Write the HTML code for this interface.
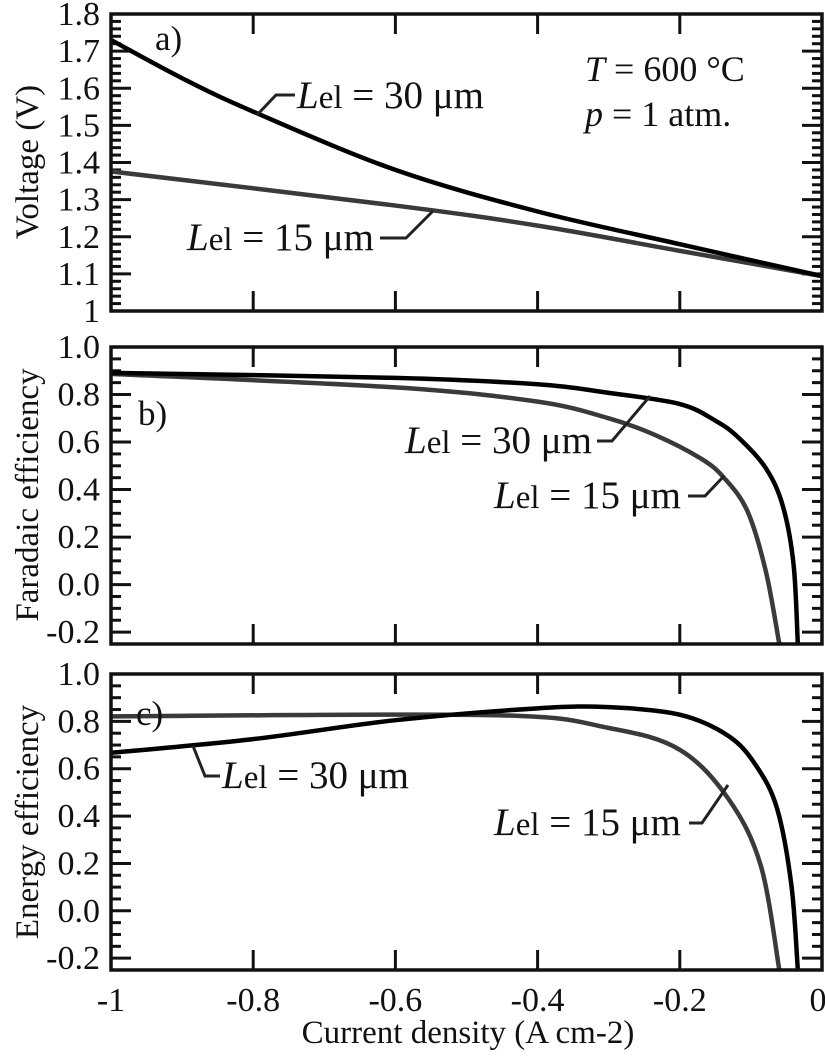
<!DOCTYPE html>
<html><head><meta charset="utf-8"><style>
html,body{margin:0;padding:0;background:#fff}
svg{display:block}
</style></head><body>
<svg id="chart" width="825" height="1056" viewBox="0 0 825 1056" xmlns="http://www.w3.org/2000/svg" font-family="'Liberation Serif', 'DejaVu Serif', serif" fill="#111"></svg>
<script>
// ---- data ----
const voltJ30 = [-1,-0.9,-0.8,-0.6,-0.4,-0.2,0];
const voltV30 = [1.73,1.627,1.537,1.38,1.268,1.18,1.094];
const voltJ15 = [-1,-0.6,-0.4,-0.2,0];
const voltV15 = [1.376,1.284,1.23,1.162,1.094];
const farJ30 = [-1,-0.6,-0.4,-0.3,-0.2,-0.15,-0.118,-0.079,-0.055,-0.04,-0.034];
const farV30 = [0.891,0.87,0.843,0.807,0.76,0.69,0.62,0.49,0.33,0.085,-0.25];
const farJ15 = [-1,-0.6,-0.4,-0.3,-0.235,-0.17,-0.138,-0.105,-0.079,-0.06];
const farV15 = [0.887,0.83,0.77,0.70,0.63,0.53,0.45,0.31,0.056,-0.25];
const enJ30 = [-1,-0.8,-0.6,-0.4,-0.3,-0.2,-0.131,-0.092,-0.063,-0.043,-0.034];
const enV30 = [0.667,0.725,0.805,0.855,0.86,0.828,0.737,0.61,0.43,0.107,-0.25];
const enJ15 = [-1,-0.46,-0.3,-0.2,-0.131,-0.086,-0.06];
const enV15 = [0.821,0.826,0.772,0.68,0.47,0.19,-0.25];
const xTicks = [-1,-0.8,-0.6,-0.4,-0.2,0];
const xTickLabels = ["-1","-0.8","-0.6","-0.4","-0.2","0"];
const voltTicks = [1,1.1,1.2,1.3,1.4,1.5,1.6,1.7,1.8];
const voltTickLabels = ["1","1.1","1.2","1.3","1.4","1.5","1.6","1.7","1.8"];
const effTicks = [-0.2,0,0.2,0.4,0.6,0.8,1.0];
const effTickLabels = ["-0.2","0.0","0.2","0.4","0.6","0.8","1.0"];

const NS="http://www.w3.org/2000/svg";
const svg=document.getElementById('chart');
const X0=111,X1=822;
const xs=j=>X0+(j+1)*(X1-X0);
function el(tag,attrs,parent){const e=document.createElementNS(NS,tag);for(const k in attrs)e.setAttribute(k,attrs[k]);(parent||svg).appendChild(e);return e;}
function smooth(pts){let d=`M${pts[0][0]},${pts[0][1]}`;for(let i=0;i<pts.length-1;i++){const p0=pts[Math.max(0,i-1)],p1=pts[i],p2=pts[i+1],p3=pts[Math.min(pts.length-1,i+2)];const c1=[p1[0]+(p2[0]-p0[0])/6,p1[1]+(p2[1]-p0[1])/6];const c2=[p2[0]-(p3[0]-p1[0])/6,p2[1]-(p3[1]-p1[1])/6];d+=` C${c1[0]},${c1[1]} ${c2[0]},${c2[1]} ${p2[0]},${p2[1]}`;}return d;}

const panels=[
 {name:'voltage',top:14,bot:311,ymin:1.0,ymax:1.8,minor:0.02,major:0.1,ticks:voltTicks,labels:voltTickLabels,title:'Voltage (V)',tcy:162,
  series:[[voltJ15,voltV15,'#3a3a3a','l15'],[voltJ30,voltV30,'#000','l30']]},
 {name:'faradaic',top:347,bot:644,ymin:-0.25,ymax:1.0,minor:0.05,major:0.2,ticks:effTicks,labels:effTickLabels,title:'Faradaic efficiency',tcy:495,
  series:[[farJ15,farV15,'#3a3a3a','l15'],[farJ30,farV30,'#000','l30']]},
 {name:'energy',top:674,bot:970,ymin:-0.25,ymax:1.0,minor:0.05,major:0.2,ticks:effTicks,labels:effTickLabels,title:'Energy efficiency',tcy:822,
  series:[[enJ15,enV15,'#3a3a3a','l15'],[enJ30,enV30,'#000','l30']]}
];
panels.forEach(p=>{
 const g=el('g',{});
 
 
 const ys=v=>p.bot-(v-p.ymin)/(p.ymax-p.ymin)*(p.bot-p.top);
 const clipId='clip-'+p.name;
 const cp=el('clipPath',{id:clipId},g);el('rect',{x:X0,y:p.top,width:X1-X0,height:p.bot-p.top},cp);
 const n=Math.round((p.ymax-p.ymin)/p.minor);
 for(let i=0;i<=n;i++){const v=p.ymin+i*p.minor;const r=v/p.major;const isMaj=Math.abs(r-Math.round(r))<1e-6;const L=isMaj?20:10;const y=ys(v);
  const t1=el('line',{x1:X0,x2:X0+L,y1:y,y2:y,stroke:'#111','stroke-width':3},g);
  
  const t2=el('line',{x1:X1,x2:X1-L,y1:y,y2:y,stroke:'#111','stroke-width':3},g);
  }
 xTicks.forEach(j=>{[[p.top,p.top+20],[p.bot,p.bot-20]].forEach(([a,b])=>{const t=el('line',{x1:xs(j),x2:xs(j),y1:a,y2:b,stroke:'#111','stroke-width':3},g);});});
 p.ticks.forEach((v,i)=>{const t=el('text',{x:100,y:ys(v)+11,'text-anchor':'end','font-size':34},g);t.textContent=p.labels[i];});
 const tt=el('text',{x:0,y:0,transform:`translate(38,${p.tcy}) rotate(-90)`,'text-anchor':'middle','font-size':33},g);tt.textContent=p.title;
 
 p.series.forEach(([J,V,c,nm])=>{const pts=J.map((j,i)=>[xs(j),ys(V[i])]);const path=el('path',{d:smooth(pts),fill:'none',stroke:c,'stroke-width':4.5,'clip-path':`url(#${clipId})`},g);
  });
 const f=el('rect',{x:X0,y:p.top,width:X1-X0,height:p.bot-p.top,fill:'none',stroke:'#111','stroke-width':3.5},g);
 
});
xTicks.forEach((j,i)=>{const t=el('text',{x:xs(j)-(j===0?4:0),y:1011,'text-anchor':'middle','font-size':34});t.textContent=xTickLabels[i];});
const xt=el('text',{x:468,y:1043,'text-anchor':'middle','font-size':33});xt.textContent='Current density (A cm-2)';


function label(x,y,txt,name){const t=el('text',{x:x,y:y,'font-size':39});
 t.innerHTML=`<tspan font-style="italic">L</tspan><tspan font-size="33">el</tspan> = ${txt} μm`;
 }
function leader(pts,name){const l=el('polyline',{points:pts,fill:'none',stroke:'#222','stroke-width':3});}
function plain(x,y,html,name,size){const t=el('text',{x:x,y:y,'font-size':size||35});t.innerHTML=html;}
plain(155,50,'a)','panel-a-label');
plain(138,425,'b)','panel-b-label');
plain(136,725,'c)','panel-c-label');
plain(585,81,'<tspan font-style="italic">T</tspan> = 600 °C','temperature-note',36);
plain(585,126,'<tspan font-style="italic">p</tspan> = 1 atm.','pressure-note',36);
label(297,108,'30','voltage-l30-label');leader('257,115 276,95 295,95','voltage-l30-leader');
label(187,250,'15','voltage-l15-label');leader('380,238 406,238 433,211','voltage-l15-leader');
label(405,453,'30','faradaic-l30-label');leader('597,441 612,441 650,396','faradaic-l30-leader');
label(494,508,'15','faradaic-l15-label');leader('688,496 705,496 724,476','faradaic-l15-leader');
label(222,788,'30','energy-l30-label');leader('193,746 205,776 220,776','energy-l30-leader');
label(494,835,'15','energy-l15-label');leader('689,823 702,823 728,785','energy-l15-leader');
</script>
</body></html>
